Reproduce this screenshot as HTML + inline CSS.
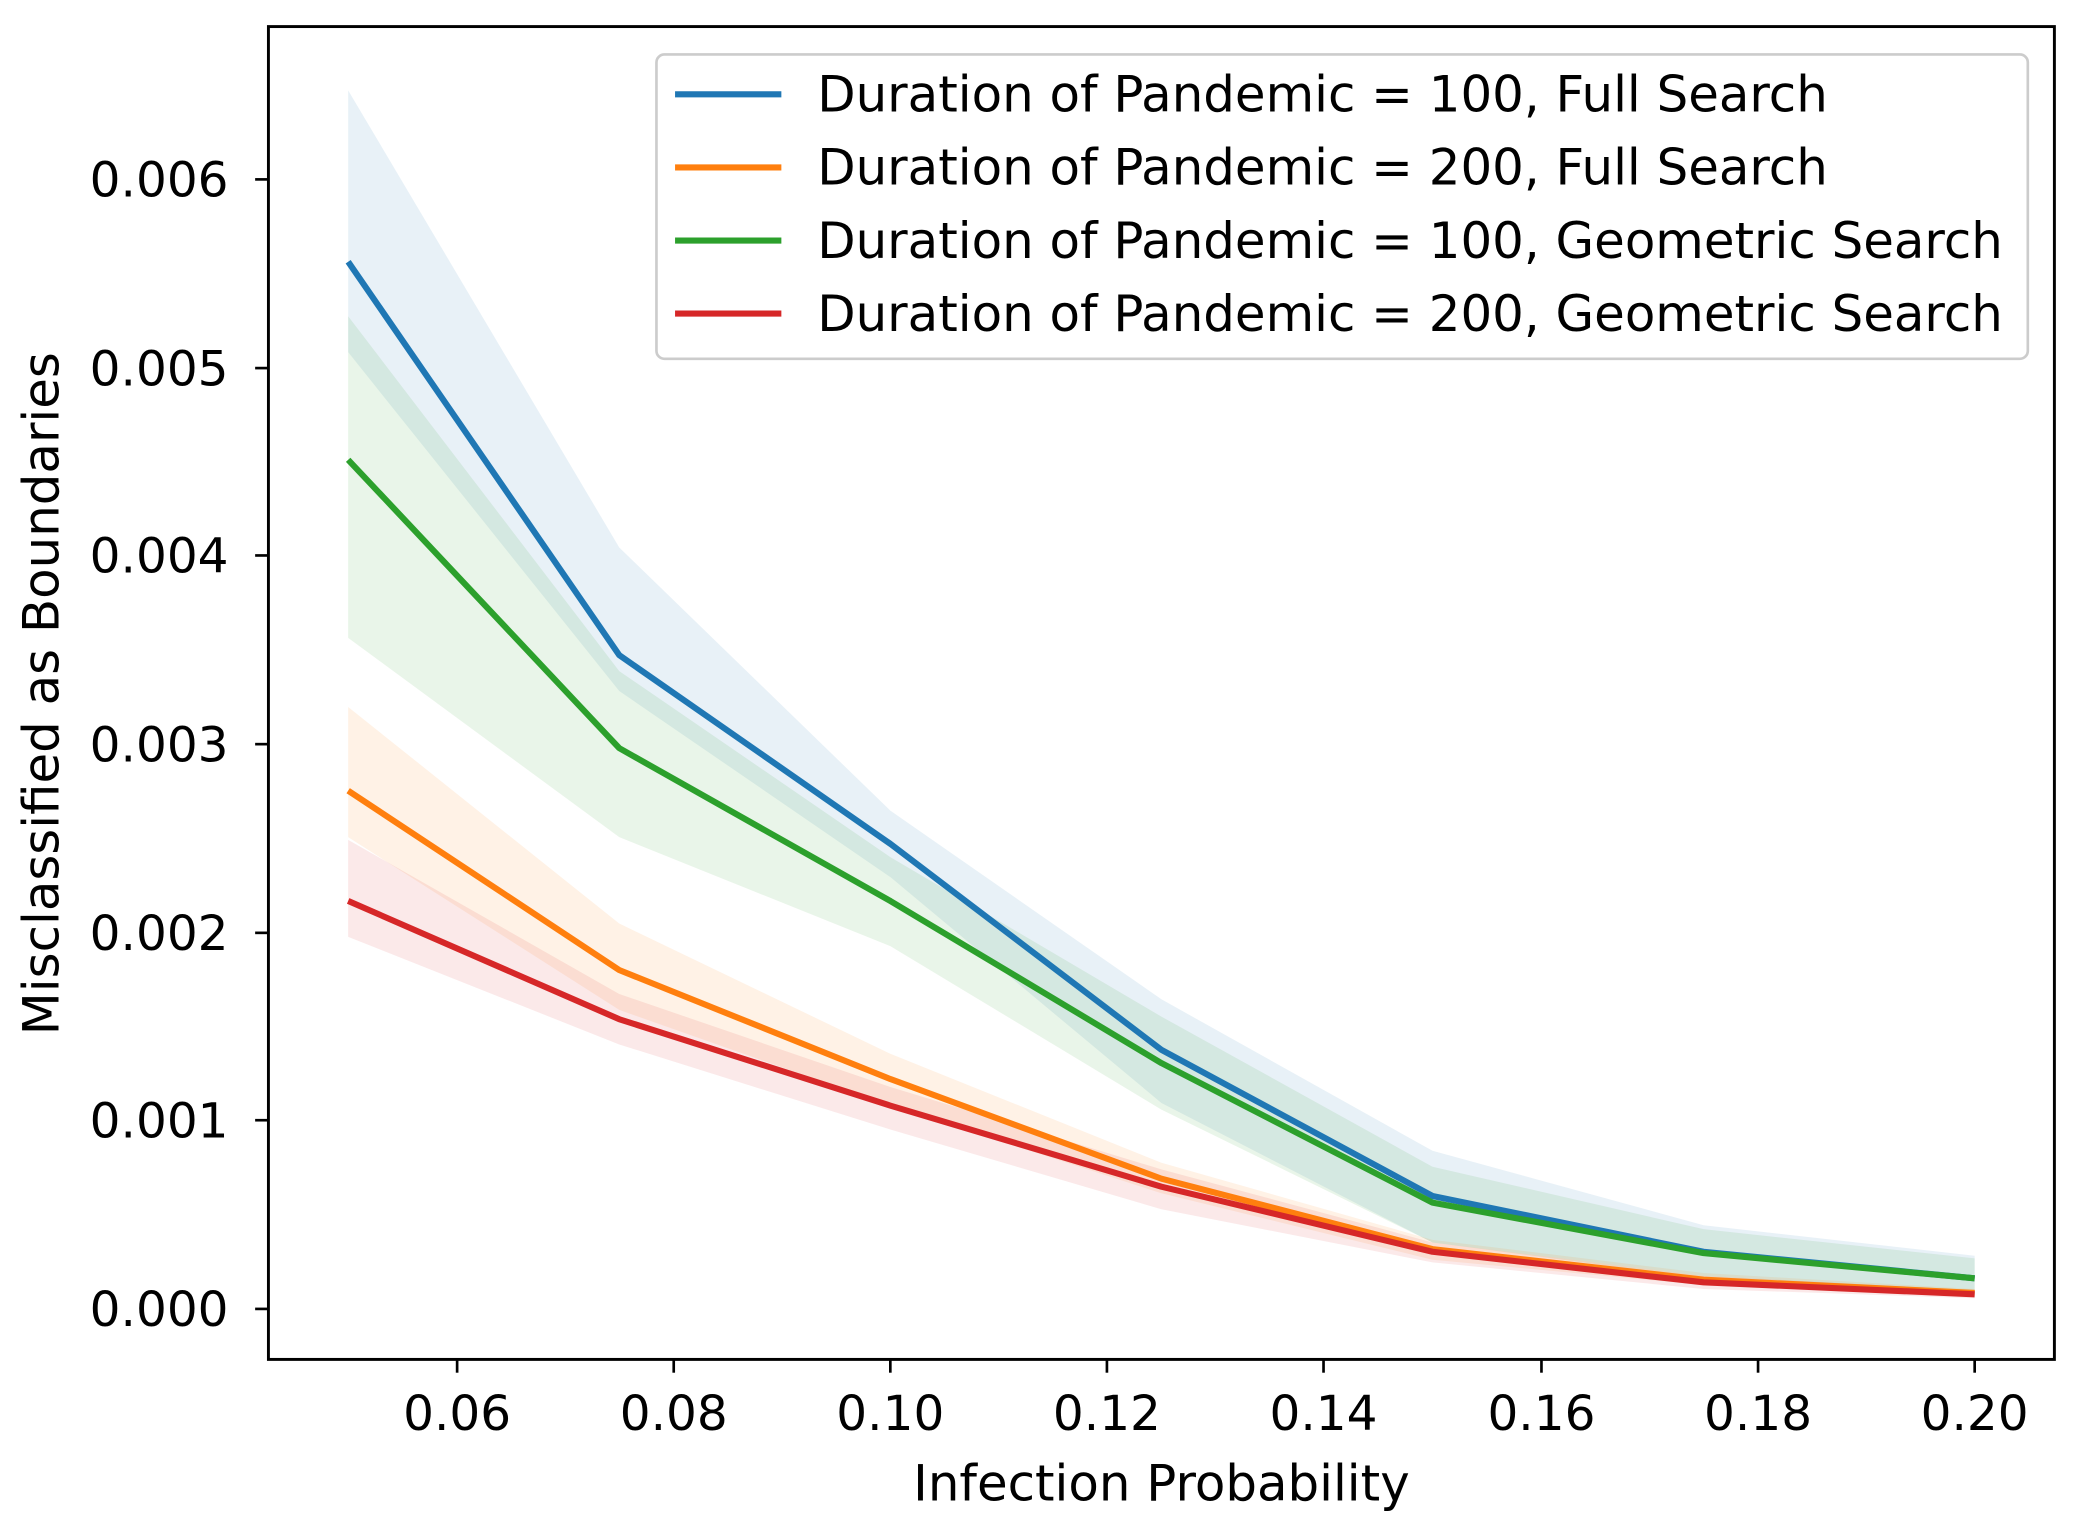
<!DOCTYPE html>
<html><head><meta charset="utf-8"><style>html,body{margin:0;padding:0;background:#fff}svg{display:block}</style></head>
<body>
<svg width="2073" height="1521" viewBox="0 0 1560 1144.6" preserveAspectRatio="none" xmlns="http://www.w3.org/2000/svg" font-family="DejaVu Sans, Liberation Sans, sans-serif">
<rect width="1560" height="1145" fill="#fff"/>
<polygon fill="#1f77b4" fill-opacity="0.1" points="262,68 466,412 670,610 874,752 1078,866 1282,922 1486,945 1486,972 1282,960 1078,935 874,830 670,660 466,520 262,265"/>
<polygon fill="#2ca02c" fill-opacity="0.1" points="262,238 466,505 670,645 874,765 1078,878 1282,925 1486,947 1486,975 1282,962 1078,935 874,835 670,712 466,630 262,480"/>
<polygon fill="#ff7f0e" fill-opacity="0.1" points="262,532 466,695 670,793 874,875 1078,933 1282,958 1486,970 1486,976 1282,967 1078,948 874,898 670,832 466,760 262,630"/>
<polygon fill="#d62728" fill-opacity="0.1" points="262,632 466,748 670,818 874,880 1078,935 1282,960 1486,971 1486,977 1282,970 1078,950 874,910 670,850 466,786 262,705"/>
<g fill="none" stroke-width="4.6" stroke-linejoin="round">
<polyline stroke="#1f77b4" points="262,197 466,493 670,635 874,790 1078,900 1282,942 1486,962"/>
<polyline stroke="#ff7f0e" points="262,595 466,730 670,812 874,887 1078,940 1282,963 1486,973"/>
<polyline stroke="#2ca02c" points="262,346 466,563 670,678 874,800 1078,905 1282,943 1486,962"/>
<polyline stroke="#d62728" points="262,678 466,767 670,832 874,893 1078,942 1282,965 1486,974"/>
</g>
<rect x="202" y="20" width="1344" height="1003" fill="none" stroke="#000" stroke-width="2.2"/>
<g stroke="#000" stroke-width="2">
<line x1="344" y1="1023" x2="344" y2="1033"/><line x1="507" y1="1023" x2="507" y2="1033"/><line x1="670" y1="1023" x2="670" y2="1033"/><line x1="833" y1="1023" x2="833" y2="1033"/><line x1="996" y1="1023" x2="996" y2="1033"/><line x1="1160" y1="1023" x2="1160" y2="1033"/><line x1="1323" y1="1023" x2="1323" y2="1033"/><line x1="1486" y1="1023" x2="1486" y2="1033"/>
<line x1="192" y1="985" x2="202" y2="985"/><line x1="192" y1="843" x2="202" y2="843"/><line x1="192" y1="702" x2="202" y2="702"/><line x1="192" y1="560" x2="202" y2="560"/><line x1="192" y1="418" x2="202" y2="418"/><line x1="192" y1="277" x2="202" y2="277"/><line x1="192" y1="135" x2="202" y2="135"/>
</g>
<g font-size="36.5" fill="#000" text-anchor="middle">
<text x="344" y="1076">0.06</text><text x="507" y="1076">0.08</text><text x="670" y="1076">0.10</text><text x="833" y="1076">0.12</text><text x="996" y="1076">0.14</text><text x="1160" y="1076">0.16</text><text x="1323" y="1076">0.18</text><text x="1486" y="1076">0.20</text>
</g>
<text font-size="37.5" x="874" y="1129" text-anchor="middle">Infection Probability</text>
<g font-size="36.5" fill="#000" text-anchor="end">
<text x="172" y="998">0.000</text><text x="172" y="856">0.001</text><text x="172" y="715">0.002</text><text x="172" y="573">0.003</text><text x="172" y="431">0.004</text><text x="172" y="290">0.005</text><text x="172" y="148">0.006</text>
</g>
<text font-size="37.5" text-anchor="middle" transform="translate(44,522) rotate(-90)">Misclassified as Boundaries</text>
<rect x="494" y="41" width="1032" height="229" rx="6" fill="#fff" fill-opacity="0.8" stroke="#ccc" stroke-width="2"/>
<g stroke-width="4.6">
<line x1="508" y1="71" x2="588" y2="71" stroke="#1f77b4"/>
<line x1="508" y1="126" x2="588" y2="126" stroke="#ff7f0e"/>
<line x1="508" y1="181" x2="588" y2="181" stroke="#2ca02c"/>
<line x1="508" y1="236" x2="588" y2="236" stroke="#d62728"/>
</g>
<g font-size="37.5" fill="#000">
<text x="615" y="84">Duration of Pandemic = 100, Full Search</text>
<text x="615" y="139">Duration of Pandemic = 200, Full Search</text>
<text x="615" y="194">Duration of Pandemic = 100, Geometric Search</text>
<text x="615" y="249">Duration of Pandemic = 200, Geometric Search</text>
</g>
</svg>
</body></html>
